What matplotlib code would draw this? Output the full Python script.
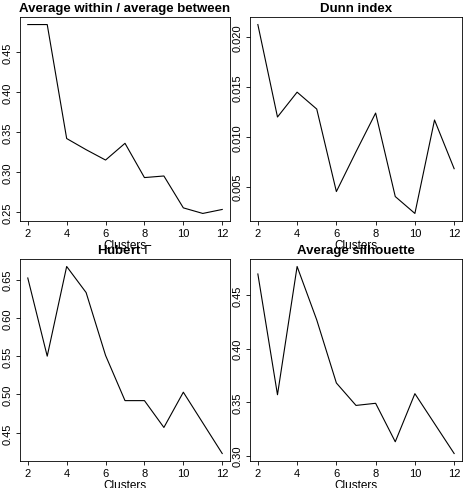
import matplotlib
matplotlib.use("Agg")
import matplotlib.pyplot as plt
import numpy as np

clusters = list(range(2, 13))
avg_within_between = [0.485, 0.485, 0.342, 0.328, 0.315, 0.336, 0.293, 0.295, 0.255, 0.248, 0.253]
dunn = [0.0213, 0.0120, 0.0145, 0.0128, 0.0045, 0.0085, 0.0124, 0.0040, 0.0023, 0.0117, 0.0068]
hubert = [0.652, 0.550, 0.667, 0.633, 0.551, 0.492, 0.492, 0.457, 0.503, 0.463, 0.423]
silhouette = [0.470, 0.357, 0.477, 0.427, 0.368, 0.347, 0.349, 0.313, 0.358, 0.330, 0.302]

panels = [
    ("Average within / average between", avg_within_between, [0.25, 0.30, 0.35, 0.40, 0.45], "%.2f"),
    ("Dunn index", dunn, [0.005, 0.010, 0.015, 0.020], "%.3f"),
    (r"Hubert $\Gamma$", hubert, [0.45, 0.50, 0.55, 0.60, 0.65], "%.2f"),
    ("Average silhouette", silhouette, [0.30, 0.35, 0.40, 0.45], "%.2f"),
]

plt.rcParams["font.family"] = ["Liberation Sans", "DejaVu Sans"]
fig = plt.figure(figsize=(4.7, 4.89), dpi=100)
W, H = 470, 489
# axes boxes in pixels: left, top, right, bottom
boxes = [(20, 18, 230, 222), (250, 18, 462, 222), (20, 260, 230, 462), (250, 260, 462, 462)]

for (title, vals, yt, fmt), (x0, y0, x1, y1) in zip(panels, boxes):
    ax = fig.add_axes([x0 / W, 1 - y1 / H, (x1 - x0) / W, (y1 - y0) / H])
    ax.plot(clusters, vals, color="black", lw=0.8)
    lo, hi = min(vals), max(vals)
    pad = (hi - lo) * 0.04
    ax.set_ylim(lo - pad, hi + pad)
    ax.set_xlim(1.6, 12.4)
    ax.set_xticks([2, 4, 6, 8, 10, 12])
    ax.set_yticks(yt)
    ax.set_yticklabels([fmt % v for v in yt], rotation=90, va="center")
    ax.tick_params(labelsize=8, length=3, width=0.6, pad=2)
    ax.set_title(title, fontsize=9.5, fontweight="bold", pad=4)
    ax.set_xlabel("Clusters", fontsize=8.5, labelpad=1)
    for s in ax.spines.values():
        s.set_linewidth(0.6)

fig.savefig("out.png", dpi=100)
